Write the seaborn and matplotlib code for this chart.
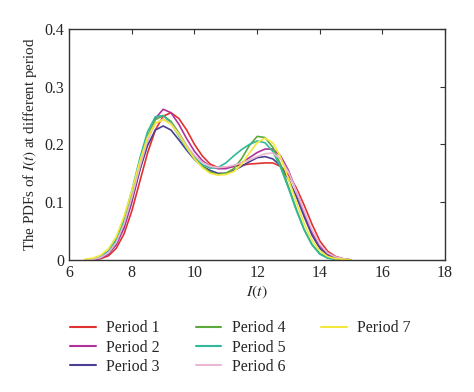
import numpy as np
import pandas as pd
import matplotlib
matplotlib.use('Agg')
import matplotlib.pyplot as plt
import seaborn as sns

# x grid of I(t) and PDF values for each period
x_vals = [6.5, 6.75, 7.0, 7.25, 7.5, 7.75, 8.0, 8.25, 8.5, 8.75, 9.0, 9.25,
          9.5, 9.75, 10.0, 10.25, 10.5, 10.75, 11.0, 11.25, 11.5, 11.75, 12.0,
          12.25, 12.5, 12.75, 13.0, 13.25, 13.5, 13.75, 14.0, 14.25, 14.5, 14.75, 15.0]

period_1 = [0.000, 0.000, 0.002, 0.007, 0.020, 0.045, 0.085, 0.135, 0.185, 0.225, 0.249, 0.255,
            0.245, 0.225, 0.200, 0.180, 0.166, 0.160, 0.160, 0.162, 0.164, 0.166, 0.167,
            0.168, 0.168, 0.162, 0.147, 0.125, 0.095, 0.062, 0.033, 0.015, 0.006, 0.002, 0.000]
period_2 = [0.000, 0.001, 0.003, 0.010, 0.026, 0.055, 0.100, 0.155, 0.207, 0.245, 0.261, 0.255,
            0.235, 0.210, 0.188, 0.172, 0.162, 0.158, 0.158, 0.162, 0.168, 0.177, 0.186,
            0.192, 0.192, 0.180, 0.155, 0.120, 0.082, 0.048, 0.024, 0.010, 0.004, 0.001, 0.000]
period_3 = [0.000, 0.001, 0.004, 0.012, 0.030, 0.060, 0.105, 0.155, 0.198, 0.225, 0.232, 0.225,
            0.208, 0.190, 0.174, 0.162, 0.155, 0.150, 0.150, 0.155, 0.162, 0.170, 0.177,
            0.179, 0.175, 0.163, 0.140, 0.110, 0.075, 0.043, 0.020, 0.008, 0.003, 0.001, 0.000]
period_4 = [0.000, 0.001, 0.005, 0.014, 0.034, 0.068, 0.115, 0.170, 0.215, 0.243, 0.250, 0.240,
            0.220, 0.198, 0.178, 0.162, 0.152, 0.148, 0.150, 0.158, 0.175, 0.198, 0.214,
            0.212, 0.195, 0.165, 0.127, 0.088, 0.053, 0.027, 0.011, 0.004, 0.001, 0.000, 0.000]
period_5 = [0.000, 0.001, 0.005, 0.015, 0.036, 0.072, 0.120, 0.175, 0.222, 0.248, 0.250, 0.237,
            0.215, 0.193, 0.176, 0.165, 0.159, 0.160, 0.168, 0.180, 0.191, 0.200, 0.206,
            0.203, 0.188, 0.160, 0.124, 0.086, 0.052, 0.026, 0.010, 0.003, 0.001, 0.000, 0.000]
period_6 = [0.000, 0.001, 0.004, 0.012, 0.030, 0.062, 0.108, 0.160, 0.207, 0.236, 0.244, 0.236,
            0.218, 0.198, 0.181, 0.169, 0.162, 0.160, 0.161, 0.164, 0.168, 0.173, 0.179,
            0.184, 0.185, 0.175, 0.152, 0.120, 0.085, 0.052, 0.027, 0.012, 0.005, 0.002, 0.000]
period_7 = [0.001, 0.003, 0.008, 0.019, 0.040, 0.075, 0.120, 0.170, 0.212, 0.237, 0.243, 0.235,
            0.217, 0.195, 0.175, 0.160, 0.150, 0.147, 0.148, 0.153, 0.165, 0.185, 0.203,
            0.211, 0.203, 0.178, 0.140, 0.100, 0.063, 0.034, 0.016, 0.006, 0.002, 0.001, 0.000]

period_names = ['Period 1', 'Period 2', 'Period 3', 'Period 4', 'Period 5', 'Period 6', 'Period 7']
period_colors = ['#e2322f', '#b0329a', '#4a3f92', '#5cab3a', '#2fb89a', '#eab8d4', '#f2e83a']

all_series = [period_1, period_2, period_3, period_4, period_5, period_6, period_7]
df = pd.concat([pd.DataFrame({'x': x_vals, 'pdf': s, 'Period': n})
                for s, n in zip(all_series, period_names)], ignore_index=True)

sns.set_style('white')
plt.rcParams['font.family'] = ['Liberation Serif', 'DejaVu Serif']
plt.rcParams['mathtext.fontset'] = 'stix'

fig = plt.figure(figsize=(4.74, 3.92), dpi=100)
ax = fig.add_axes([0.146, 0.337, 0.793, 0.589])

sns.lineplot(data=df, x='x', y='pdf', hue='Period', palette=period_colors,
             linewidth=1.2, ax=ax, legend=False)

ax.set_xlim(6, 18)
ax.set_ylim(0, 0.4)
ax.set_xticks([6, 8, 10, 12, 14, 16, 18])
ax.set_yticks([0, 0.1, 0.2, 0.3, 0.4])
ax.set_yticklabels(['0', '0.1', '0.2', '0.3', '0.4'])
ax.tick_params(direction='in', length=3.5, top=True, right=True, labelsize=11.5,
               color='#333333', width=0.8)
for sp in ax.spines.values():
    sp.set_color('#333333')
    sp.set_linewidth(1.0)
ax.set_xlabel('$I(t)$', fontsize=11.5, labelpad=2)
ax.set_ylabel('The PDFs of $I(t)$ at different period', fontsize=10.8, labelpad=4)

# legend: 3 columns filled 3,3,1 -> pad with an invisible entry
handles = [plt.Line2D([], [], color=c, linewidth=1.5) for c in period_colors]
handles.append(plt.Line2D([], [], color='none'))
labels = period_names + ['']
fig.legend(handles, labels, loc='upper left', bbox_to_anchor=(0.131, 0.203),
           ncol=3, frameon=False, fontsize=11.5, handlelength=1.6, handletextpad=0.65,
           columnspacing=2.25, labelspacing=0.2, borderpad=0)

fig.savefig('out.png', dpi=100)
